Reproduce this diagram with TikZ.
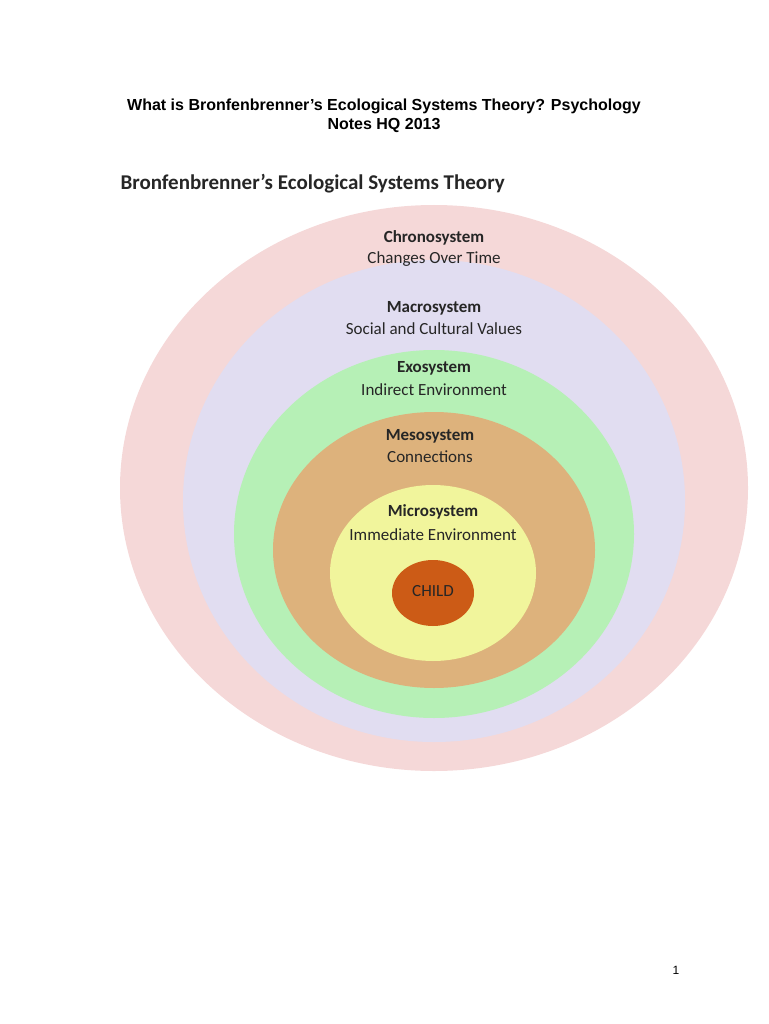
\documentclass[tikz,border=0pt]{standalone}
\usepackage{fontspec}
\setmainfont{Liberation Sans}
\newfontfamily\carfont{Carlito}
\begin{document}
\begin{tikzpicture}[x=1pt,y=-1pt,
  hd/.style={font=\carfont\bfseries\fontsize{17}{20}\selectfont,text=black!85},
  sb/.style={font=\carfont\fontsize{17}{20}\selectfont,text=black!85}]
\useasboundingbox (0,0) rectangle (768,1024);
\definecolor{cpink}{HTML}{F5D8D8}
\definecolor{clav}{HTML}{E1DDF1}
\definecolor{cgreen}{HTML}{B6F0B6}
\definecolor{ctan}{HTML}{DDB27C}
\definecolor{cyel}{HTML}{F1F59C}
\definecolor{cchild}{HTML}{CC5B16}
\fill[cpink] (434,488) ellipse [x radius=314,y radius=283];
\fill[clav] (434,501) ellipse [x radius=251,y radius=241];
\fill[cgreen] (434,534) ellipse [x radius=200,y radius=184];
\fill[ctan] (434,550) ellipse [x radius=161,y radius=138];
\fill[cyel] (433,573) ellipse [x radius=103,y radius=88];
\fill[cchild] (433,593) ellipse [x radius=41,y radius=33];
\node[font=\bfseries\fontsize{16}{19}\selectfont,align=center] (title) at (384,116) {What is Bronfenbrenner’s Ecological Systems Theory? Psychology\\Notes HQ 2013};
\node[font=\carfont\bfseries\fontsize{21}{24}\selectfont,anchor=west,text=black!85] (dtitle) at (117,184) {Bronfenbrenner’s Ecological Systems Theory};
\node[hd] (h1) at (434,238) {Chronosystem};
\node[sb] (s1) at (434,259) {Changes Over Time};
\node[hd] (h2) at (434,308) {Macrosystem};
\node[sb] (s2) at (434,329) {Social and Cultural Values};
\node[hd] (h3) at (434,368) {Exosystem};
\node[sb] (s3) at (434,390) {Indirect Environment};
\node[hd] (h4) at (430,436) {Mesosystem};
\node[sb] (s4) at (430,457) {Connections};
\node[hd] (h5) at (433,512) {Microsystem};
\node[sb] (s5) at (433,535) {Immediate Environment};
\node[sb] (child) at (433,591) {CHILD};
\node[font=\fontsize{12}{14}\selectfont] (pg) at (676,970) {1};
\end{tikzpicture}
\end{document}
